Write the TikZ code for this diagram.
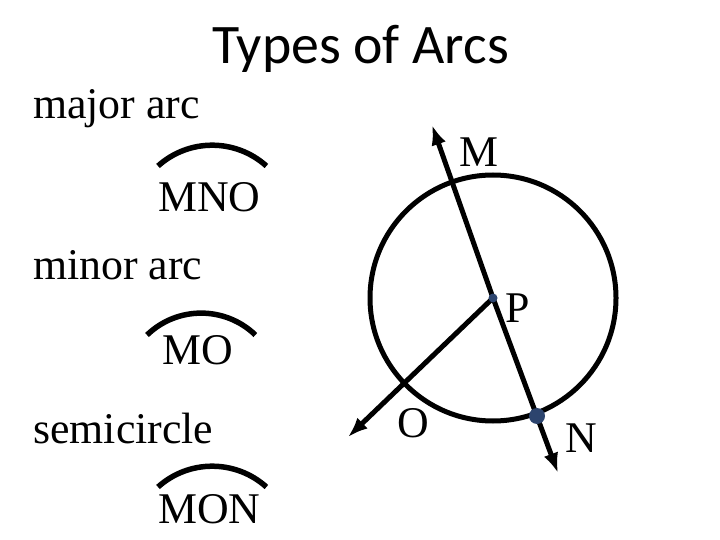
\documentclass[tikz,border=0pt]{standalone}
\usepackage{fontspec}
\setmainfont{Liberation Serif}
\newfontfamily\titlefont{Carlito}
\usetikzlibrary{arrows.meta}
\definecolor{dotblue}{RGB}{44,68,110}

\begin{document}
\begin{tikzpicture}[x=1bp,y=-1bp,
  lbl/.style={anchor=base west,inner sep=0pt,font=\fontsize{44}{48}\selectfont},
  thick line/.style={line width=5bp},
  ray/.style={line width=5bp,-{Latex[length=20bp,width=15bp]}},
  arcmark/.style={line width=5.5bp}]

\useasboundingbox (0,0) rectangle (720,540);

\node[anchor=base west,inner sep=0pt,font=\titlefont\fontsize{56}{60}\selectfont] (title) at (212,64) {Types of Arcs};

% names on the left
\node[lbl] (major) at (33,119) {major arc};
\node[lbl] (mno) at (158,212) {MNO};
\node[lbl] (minor) at (33,280) {minor arc};
\node[lbl] (mo) at (162,364) {MO};
\node[lbl] (semi) at (33,443) {semicircle};
\node[lbl] (mon) at (158,523) {MON};

% arcs over the names
\draw[arcmark] (158,166) arc[start angle=-132,end angle=-48,radius=81];
\draw[arcmark] (147,335) arc[start angle=-134,end angle=-46,radius=78];
\draw[arcmark] (158,487) arc[start angle=-132,end angle=-48,radius=81];

% the circle
\coordinate (P) at (493,298);
\coordinate (Mtip) at (432,125);
\coordinate (Ntip) at (558,473);
\coordinate (Otip) at (348,437);
\draw[thick line] (P) circle[radius=123];
\draw[ray] (P) -- (Mtip);
\draw[ray] (P) -- (Ntip);
\draw[ray] (P) -- (Otip);
\fill[dotblue] (P) circle[radius=4.5];
\fill[dotblue] (537,416) circle[radius=8];

\node[lbl] (m) at (459,167) {M};
\node[lbl] (p) at (505,322) {P};
\node[lbl] (o) at (397,437) {O};
\node[lbl] (n) at (565,452) {N};
\end{tikzpicture}
\end{document}
